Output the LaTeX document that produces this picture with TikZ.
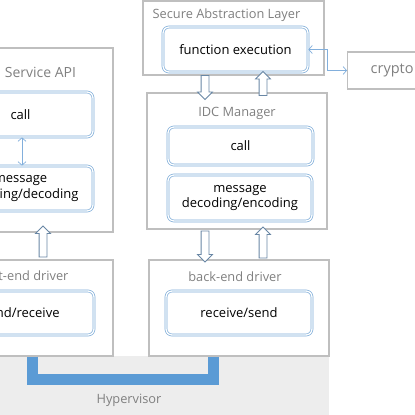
\documentclass[tikz,border=0pt]{standalone}
\usepackage{fontspec}
\setmainfont{Open Sans}
\usetikzlibrary{arrows.meta,shapes.arrows}
\definecolor{boxgrey}{RGB}{191,191,191}
\definecolor{titlegrey}{RGB}{128,128,128}
\definecolor{innerblue}{RGB}{125,172,216}
\definecolor{arrslate}{RGB}{105,135,165}
\definecolor{thinblue}{RGB}{130,175,220}
\definecolor{busblue}{RGB}{91,155,213}
\definecolor{hvgrey}{RGB}{237,237,237}
\tikzset{
  outer/.style={draw=boxgrey, line width=1.4pt, fill=white, inner sep=0pt},
  inner/.style={draw=innerblue, line width=0.7pt, double=white, double distance=1.3pt,
    rounded corners=6pt, inner sep=0pt, align=center, font=\fontsize{13}{15.5}\selectfont},
  ttl/.style={text=titlegrey, font=\fontsize{12.8}{15}\selectfont, inner sep=0pt},
  blockarr/.style={single arrow, draw=arrslate, line width=0.8pt, fill=white,
    inner xsep=0pt, inner ysep=3.5pt, single arrow head extend=3.5pt,
    single arrow tip angle=90, minimum width=7pt},
  thinarr/.style={draw=thinblue, line width=0.7pt,
    {Straight Barb[length=3.5pt,width=8pt]}-{Straight Barb[length=3.5pt,width=8pt]}},
  bus/.style={draw=busblue, line width=11pt},
}
\begin{document}
\begin{tikzpicture}[x=1pt,y=-1pt]
\useasboundingbox (0,0) rectangle (415,415);
\clip (0,0) rectangle (415,415);
% hypervisor background
\fill[hvgrey] (0,356) rectangle (329,415);
\node[ttl] (hv) at (129,400) {Hypervisor};

% right column
\node[outer, minimum width=181pt, minimum height=74pt] (sal) at (233.5,38) {};
\node[ttl] (saltitle) at (226.5,15) {Secure Abstraction Layer};
\node[inner, minimum width=145pt, minimum height=45pt] (fe) at (235.5,49.5) {function execution};
\node[outer, anchor=west, minimum height=37pt, inner xsep=23pt, text width=60pt, align=left,
  text=titlegrey, font=\fontsize{14.5}{17}\selectfont] (crypto) at (347,70.5) {crypto};

\node[outer, minimum width=180pt, minimum height=136pt] (idc) at (237,161) {};
\node[ttl] (idctitle) at (237,113) {IDC Manager};
\node[inner, minimum width=145pt, minimum height=38pt] (icall) at (240.5,146) {call};
\node[inner, minimum width=144pt, minimum height=46pt] (imsg) at (240,198) {message\\decoding/encoding};

\node[outer, minimum width=180pt, minimum height=96pt] (be) at (239,308) {};
\node[ttl] (betitle) at (235,277) {back-end driver};
\node[inner, minimum width=146pt, minimum height=44pt] (bers) at (239,313) {receive/send};

% left column
\node[outer, minimum width=180pt, minimum height=184pt] (svc) at (23,140) {};
\node[ttl, font=\fontsize{14}{16}\selectfont] (svctitle) at (40.5,72) {Service API};
\node[inner, minimum width=145pt, minimum height=45pt] (lcall) at (20.5,114.5) {call};
\node[inner, minimum width=145pt, minimum height=45pt] (lmsg) at (20.5,188.5) {message\\encoding/decoding};

\node[outer, minimum width=180pt, minimum height=96pt] (lfe) at (23,308) {};
\node[ttl] (lfetitle) at (21,276) {front-end driver};
\node[inner, minimum width=146pt, minimum height=44pt] (lsr) at (21,313) {send/receive};

% thin connectors
\draw[thinarr] (lcall.south -| 22,0) -- (lmsg.north -| 22,0);
\coordinate (bend) at (327,0);
\draw[thinarr] (fe.east) -- (fe.east -| bend) |- (crypto.west);

% block arrows
\node[blockarr, minimum height=24pt, rotate=-90] (a1) at (205,85.5) {};
\node[blockarr, minimum height=24pt, rotate=90] (a2) at (263,85.5) {};
\node[blockarr, minimum height=31pt, rotate=-90] (a3) at (205,244.5) {};
\node[blockarr, minimum height=31pt, rotate=90] (a4) at (263,244.5) {};
\node[blockarr, minimum height=31pt, rotate=90] (a5) at (43,243.5) {};

% bus line
\coordinate (busL) at (32.5,379);
\coordinate (busR) at (213.5,379);
\draw[bus] (busL |- lfe.south) -- (busL) -- (busR) -- (busR |- be.south);
\end{tikzpicture}
\end{document}
